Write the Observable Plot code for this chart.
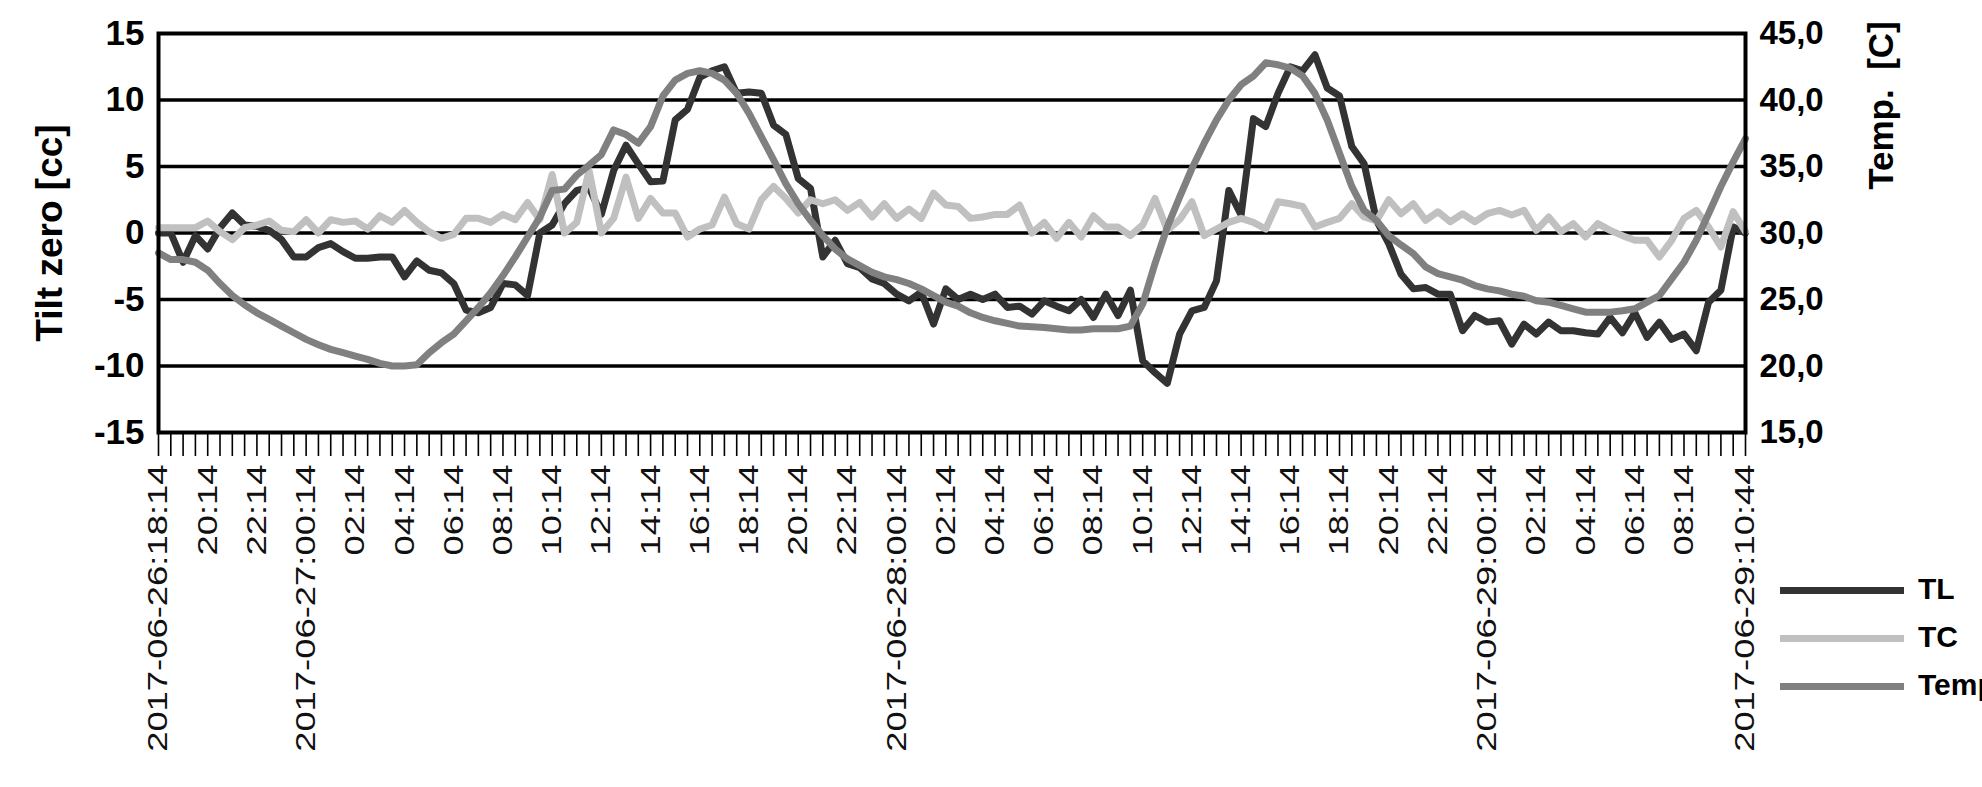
<!DOCTYPE html>
<html>
<head>
<meta charset="utf-8">
<script src="https://cdn.jsdelivr.net/npm/d3@7"></script>
<script src="https://cdn.jsdelivr.net/npm/@observablehq/plot@0.6"></script>
<style>
  html, body { margin: 0; padding: 0; background: #fff; }
  #wrap { position: relative; width: 1982px; height: 787px; overflow: hidden; font-family: "Liberation Sans", Arial, sans-serif; }
  #legend { position: absolute; left: 1780px; top: 570px; }
  .row { position: absolute; left: 0; height: 40px; width: 200px; }
  .sw { position: absolute; left: 0; top: 17px; width: 124px; height: 7px; }
  .lab { position: absolute; left: 138px; top: 2px; font-size: 30px; font-weight: bold; color: #000; white-space: nowrap; }
</style>
</head>
<body>
<div id="wrap"></div>
<script>
// ---- data (30-minute samples from 2017-06-26 18:14 to 2017-06-29 10:44) ----
const tl = [
  0, 0, -2.2, -0.2, -1.2, 0.4, 1.5, 0.6, 0.5, 0.2,
  -0.5, -1.8, -1.8, -1.1, -0.8, -1.4, -1.9, -1.9, -1.8, -1.8,
  -3.3, -2.1, -2.8, -3.0, -3.8, -5.8, -6.0, -5.6, -3.8, -3.9,
  -4.7, 0, 0.6, 2.2, 3.2, 3.4, 1.4, 4.7, 6.6, 5.2,
  3.85, 3.9, 8.5, 9.3, 11.7, 12.2, 12.5, 10.5, 10.6, 10.5,
  8.1, 7.4, 4.1, 3.35, -1.8, -0.55, -2.3, -2.6, -3.45, -3.8,
  -4.6, -5.1, -4.45, -6.85, -4.2, -5.0, -4.6, -5.0, -4.6, -5.6,
  -5.5, -6.1, -5.1, -5.5, -5.85, -5.0, -6.35, -4.6, -6.2, -4.3,
  -9.6, -10.5, -11.3, -7.6, -5.85, -5.6, -3.6, 3.2, 1.35, 8.6,
  8.0, 10.5, 12.5, 12.2, 13.4, 10.9, 10.3, 6.5, 5.2, 0.95,
  -0.8, -3.1, -4.2, -4.1, -4.6, -4.6, -7.35, -6.2, -6.7, -6.6,
  -8.35, -6.85, -7.6, -6.7, -7.35, -7.35, -7.5, -7.6, -6.35, -7.5,
  -6.0, -7.85, -6.7, -8.0, -7.6, -8.85, -5.2, -4.3, 0.45, 0
];
const tc = [
  0.4, 0.4, 0.4, 0.4, 0.9, 0.1, -0.5, 0.4, 0.6, 0.9,
  0.2, 0.1, 1.0, 0, 1.0, 0.8, 0.9, 0.3, 1.3, 0.8,
  1.7, 0.8, 0.1, -0.4, -0.1, 1.1, 1.1, 0.8, 1.4, 1.0,
  2.3, 1.0, 4.4, 0, 0.8, 4.7, 0, 1.1, 4.2, 1.1,
  2.6, 1.5, 1.5, -0.3, 0.3, 0.6, 2.7, 0.7, 0.3, 2.5,
  3.5, 2.6, 1.5, 2.5, 2.2, 2.5, 1.7, 2.3, 1.2, 2.2,
  1.1, 1.8, 1.1, 3.0, 2.1, 2.0, 1.1, 1.2, 1.4, 1.4,
  2.1, 0, 0.8, -0.4, 0.8, -0.3, 1.3, 0.45, 0.45, -0.2,
  0.6, 2.6, 0.2, 1.0, 2.35, -0.2, 0.3, 0.8, 1.1, 0.8,
  0.3, 2.35, 2.2, 2.0, 0.45, 0.8, 1.1, 2.2, 1.2, 0.9,
  2.5, 1.45, 2.2, 0.95, 1.6, 0.85, 1.45, 0.85, 1.45, 1.7,
  1.35, 1.7, 0.2, 1.2, 0.1, 0.7, -0.3, 0.7, 0.2, -0.2,
  -0.55, -0.55, -1.8, -0.55, 1.1, 1.7, 0.45, -1.05, 1.6, 0.1
];
const tempC = [
  28.5, 28.0, 28.0, 27.8, 27.2, 26.2, 25.3, 24.6, 24.0, 23.5,
  23.0, 22.5, 22.0, 21.6, 21.25, 21.0, 20.75, 20.5, 20.2, 20.0,
  20.0, 20.1, 21.0, 21.75, 22.4, 23.4, 24.4, 25.5, 26.8, 28.2,
  29.7, 31.2, 33.2, 33.3, 34.35, 35.1, 35.9, 37.75, 37.4, 36.75,
  38.0, 40.3, 41.5, 42.0, 42.2, 42.0, 41.5, 40.5, 39.0, 37.25,
  35.5, 33.7, 32.2, 30.95, 29.8, 28.8, 28.05, 27.55, 27.05, 26.7,
  26.5, 26.2, 25.8, 25.3, 24.8, 24.5, 24.0, 23.65, 23.4, 23.2,
  23.0, 22.95, 22.9, 22.8, 22.7, 22.7, 22.8, 22.8, 22.8, 23.0,
  24.65, 27.7, 30.45, 32.7, 34.85, 36.75, 38.5, 40.0, 41.15, 41.8,
  42.8, 42.65, 42.4, 41.8, 40.5, 38.5, 36.0, 33.5, 31.7, 30.95,
  29.8, 29.1, 28.45, 27.45, 26.95, 26.7, 26.45, 26.05, 25.8, 25.65,
  25.4, 25.25, 24.9, 24.8, 24.55, 24.3, 24.05, 24.05, 24.05, 24.15,
  24.3, 24.8, 25.3, 26.55, 27.8, 29.45, 31.45, 33.5, 35.35, 37.1
];
const xLabels = [
  "2017-06-26:18:14", "20:14", "22:14",
  "2017-06-27:00:14", "02:14", "04:14", "06:14", "08:14", "10:14", "12:14",
  "14:14", "16:14", "18:14", "20:14", "22:14",
  "2017-06-28:00:14", "02:14", "04:14", "06:14", "08:14", "10:14", "12:14",
  "14:14", "16:14", "18:14", "20:14", "22:14",
  "2017-06-29:00:14", "02:14", "04:14", "06:14", "08:14", "2017-06-29:10:44"
];
const xLabelIdx = [0, 4, 8, 12, 16, 20, 24, 28, 32, 36, 40, 44, 48, 52, 56, 60, 64,
  68, 72, 76, 80, 84, 88, 92, 96, 100, 104, 108, 112, 116, 120, 124, 129];
const yTicks = [-15, -10, -5, 0, 5, 10, 15];
const gridTicks = [-10, -5, 0, 5, 10];
const tempOffset = 30; // right axis: 15..45 °C aligned with left -15..15
const seriesNames = ["TL", "TC", "Temp"];
const seriesColors = ["#333333", "#c0c0c0", "#808080"];

// ---- build rows ----
const rowsTL = tl.map((v, i) => ({i, v}));
const rowsTC = tc.map((v, i) => ({i, v}));
const rowsT = tempC.map((v, i) => ({i, v}));
const labelMap = new Map(xLabelIdx.map((d, k) => [d, xLabels[k]]));
const fmtComma = d => (d + tempOffset).toFixed(1).replace(".", ",");

const chart = Plot.plot({
  width: 1982,
  height: 787,
  marginLeft: 158,
  marginRight: 237,
  marginTop: 33,
  marginBottom: 355,
  x: {domain: [0, tl.length - 1], axis: null, label: null},
  y: {domain: [-15, 15], axis: null, label: null},
  style: {fontFamily: "'Liberation Sans', Arial, sans-serif", background: "#fff", color: "#000"},
  marks: [
    Plot.ruleY(gridTicks, {stroke: "#000", strokeWidth: 3.5}),
    Plot.axisX(d3.range(tl.length), {anchor: "bottom", label: null, tickSize: 24, tickFormat: () => "", stroke: "#000", strokeWidth: 1.6}),
    Plot.axisX(xLabelIdx, {anchor: "bottom", label: null, tickSize: 0, tickPadding: 32, tickRotate: -90,
      tickFormat: d => labelMap.get(d), fontSize: 28, fill: "#111"}),
    Plot.axisY(yTicks, {anchor: "left", label: null, tickSize: 0, tickPadding: 14, tickFormat: d => String(d),
      fontSize: 35, fontWeight: "bold", fill: "#000"}),
    Plot.axisY(yTicks, {anchor: "right", label: null, tickSize: 0, tickPadding: 14, tickFormat: fmtComma,
      fontSize: 33, fontWeight: "bold", fill: "#000"}),
    Plot.text(["Tilt zero [cc]"], {frameAnchor: "left", dx: -108, rotate: -90, text: d => d,
      textAnchor: "middle", lineAnchor: "middle", fontSize: 37, fontWeight: "bold", fill: "#000"}),
    Plot.text(["Temp.  [C]"], {frameAnchor: "top-right", dx: 136, dy: 72, rotate: -90, text: d => d,
      textAnchor: "middle", lineAnchor: "middle", fontSize: 35, fontWeight: "bold", fill: "#000"}),
    Plot.line(rowsTL, {x: "i", y: "v", stroke: seriesColors[0], strokeWidth: 7, strokeLinejoin: "round", strokeLinecap: "round"}),
    Plot.line(rowsTC, {x: "i", y: "v", stroke: seriesColors[1], strokeWidth: 7, strokeLinejoin: "round", strokeLinecap: "round"}),
    Plot.line(rowsT, {x: "i", y: d => d.v - tempOffset, stroke: seriesColors[2], strokeWidth: 7, strokeLinejoin: "round", strokeLinecap: "round"}),
    Plot.frame({stroke: "#000", strokeWidth: 4})
  ]
});

// elongate the rotated date labels along their direction, as in the reference
d3.select(chart).selectAll("text").each(function() {
  const t = this.getAttribute("transform");
  const s = this.textContent || "";
  if (t && t.includes("rotate") && /\d\d:\d\d/.test(s)) this.setAttribute("transform", t + " scale(1.3,1)");
});

const wrap = document.getElementById("wrap");
wrap.appendChild(chart);

// legend
const legend = document.createElement("div");
legend.id = "legend";
seriesNames.forEach((name, k) => {
  const row = document.createElement("div");
  row.className = "row";
  row.style.top = (k * 48) + "px";
  const sw = document.createElement("div");
  sw.className = "sw";
  sw.style.background = seriesColors[k];
  const lab = document.createElement("div");
  lab.className = "lab";
  lab.textContent = name;
  row.appendChild(sw);
  row.appendChild(lab);
  legend.appendChild(row);
});
wrap.appendChild(legend);
</script>
</body>
</html>
